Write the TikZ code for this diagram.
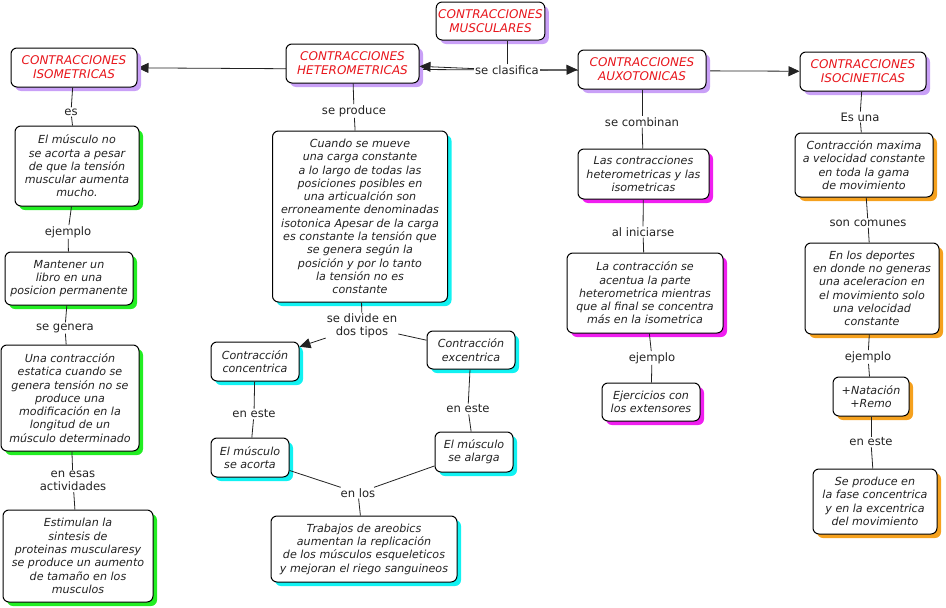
\documentclass[tikz,border=0pt]{standalone}
\usepackage{fontspec}
\setmainfont{DejaVu Sans}
\usetikzlibrary{shadows, arrows.meta, backgrounds}

\definecolor{cmred}{HTML}{E8161C}
\definecolor{txt}{HTML}{222222}
\definecolor{shpur}{HTML}{C9A0F7}
\definecolor{shgre}{HTML}{22EE22}
\definecolor{shcya}{HTML}{11F2F2}
\definecolor{shmag}{HTML}{F01EF0}
\definecolor{shora}{HTML}{F5A11E}

\begin{document}
\begin{tikzpicture}[x=1pt, y=-1pt,
  box/.style={draw, line width=1pt, rounded corners=6pt, fill=white, align=center,
    inner sep=2pt, text=txt, font=\fontsize{11.1}{13.3}\selectfont\itshape},
  head/.style={box, text=cmred, font=\fontsize{12}{14}\selectfont\itshape},
  sh/.style={drop shadow={shadow xshift=4pt, shadow yshift=-4pt, fill=#1, opacity=1}},
  phrase/.style={inner sep=1pt, align=center, text=txt, font=\fontsize{11.6}{13.3}\selectfont},
  link/.style={draw=txt, line width=0.8pt},
  tip/.style={link, -{Triangle[length=11pt, width=10pt]}},
]
\useasboundingbox (0,0) rectangle (946,608);

%% titles
\node[head, sh=shpur, minimum width=99pt, minimum height=38pt] (mus) at (490.5,21) {CONTRACCIONES\\MUSCULARES};
\node[head, sh=shpur, minimum width=133pt, minimum height=39pt] (het) at (352.5,63.5) {CONTRACCIONES\\HETEROMETRICAS};
\node[head, sh=shpur, minimum width=126pt, minimum height=39pt] (iso) at (74,67.5) {CONTRACCIONES\\ISOMETRICAS};
\node[head, sh=shpur, minimum width=128pt, minimum height=39pt] (aux) at (642,69.5) {CONTRACCIONES\\AUXOTONICAS};
\node[head, sh=shpur, minimum width=126pt, minimum height=39pt] (isc) at (863,71.5) {CONTRACCIONES\\ISOCINETICAS};

%% isometricas
\node[box, sh=shgre, minimum width=124pt, minimum height=80pt] (a1) at (77,166)
  {El músculo no\\se acorta a pesar\\de que la tensión\\muscular aumenta\\mucho.};
\node[box, sh=shgre, minimum width=128pt, minimum height=53pt] (a2) at (69,278.5)
  {Mantener un\\libro en una\\posicion permanente};
\node[box, sh=shgre, minimum width=138pt, minimum height=106pt] (a3) at (70,398)
  {Una contracción\\estatica cuando se\\genera tensión no se\\produce una\\modificación en la\\longitud de un\\músculo determinado};
\node[box, sh=shgre, minimum width=150pt, minimum height=92pt] (a4) at (78,556)
  {Estimulan la\\sintesis de\\proteinas muscularesy\\se produce un aumento\\de tamaño en los\\musculos};

%% heterometricas
\node[box, sh=shcya, minimum width=175pt, minimum height=171pt] (b1) at (360,216.5)
  {Cuando se mueve\\una carga constante\\a lo largo de todas las\\posiciones posibles en\\una articualción son\\erroneamente denominadas\\isotonica Apesar de la carga\\es constante la tensión que\\se genera según la\\posición y por lo tanto\\la tensión no es\\constante};
\node[box, sh=shcya, minimum width=88pt, minimum height=39pt] (bcon) at (255,361.5) {Contracción\\concentrica};
\node[box, sh=shcya, minimum width=88pt, minimum height=38pt] (bexc) at (471,350) {Contracción\\excentrica};
\node[box, sh=shcya, minimum width=78pt, minimum height=39pt] (bcor) at (250,457.5) {El músculo\\se acorta};
\node[box, sh=shcya, minimum width=78pt, minimum height=40pt] (blar) at (474,452) {El músculo\\se alarga};
\node[box, sh=shcya, minimum width=186pt, minimum height=66pt] (btra) at (364,549)
  {Trabajos de areobics\\aumentan la replicación\\de los músculos esqueleticos\\y mejoran el riego sanguineos};

%% auxotonicas
\node[box, sh=shmag, minimum width=131pt, minimum height=50pt] (c1) at (643.5,174)
  {Las contracciones\\heterometricas y las\\isometricas};
\node[box, sh=shmag, minimum width=156pt, minimum height=80pt] (c2) at (645,293)
  {La contracción se\\acentua la parte\\heterometrica mientras\\que al final se concentra\\más en la isometrica};
\node[box, sh=shmag, minimum width=98pt, minimum height=38pt] (c3) at (651,402) {Ejercicios con\\los extensores};

%% isocineticas
\node[box, sh=shora, minimum width=138pt, minimum height=64pt] (d1) at (864,165)
  {Contracción maxima\\a velocidad constante\\en toda la gama\\de movimiento};
\node[box, sh=shora, minimum width=134pt, minimum height=91pt] (d2) at (872,288.5)
  {En los deportes\\en donde no generas\\una aceleracion en\\el movimiento solo\\una velocidad\\constante};
\node[box, sh=shora, minimum width=76pt, minimum height=39pt] (d3) at (871,396.5) {+Natación\\+Remo};
\node[box, sh=shora, minimum width=124pt, minimum height=65pt] (d4) at (875,501.5)
  {Se produce en\\la fase concentrica\\y en la excentrica\\del movimiento};

%% linking phrases
\node[phrase] (clas) at (507,70) {se clasifica};
\node[phrase] (es) at (71,112) {es};
\node[phrase] (ej1) at (68,232) {ejemplo};
\node[phrase] (gen) at (65,328) {se genera};
\node[phrase] (esas) at (73,481) {en esas\\actividades};
\node[phrase] (prod) at (354,111) {se produce};
\node[phrase] (div) at (362,326) {se divide en\\dos tipos};
\node[phrase] (est1) at (254,414) {en este};
\node[phrase] (est2) at (468,409) {en este};
\node[phrase] (los) at (358,493) {en los};
\node[phrase] (comb) at (642,122) {se combinan};
\node[phrase] (ini) at (643,232) {al iniciarse};
\node[phrase] (ej2) at (652,358) {ejemplo};
\node[phrase] (una) at (860,117) {Es una};
\node[phrase] (com) at (868,223) {son comunes};
\node[phrase] (ej3) at (868,357) {ejemplo};
\node[phrase] (est3) at (871,442) {en este};

%% connectors
\begin{scope}[on background layer]
\draw[tip] (clas) -- (iso);
\draw[tip] (clas) -- (isc);
\end{scope}
\draw[link] (clas.north) -- (clas.north |- mus.south);
\draw[tip] (clas) -- (het);
\draw[tip] (clas) -- (aux);
\draw[tip] (div) -- (bcon);

\foreach \a/\b in {iso/es, es/a1, a1/ej1, ej1/a2, a2/gen, gen/a3, a3/esas, esas/a4,
    het/prod, prod/b1, b1/div, div/bexc, bcon/est1, est1/bcor, bexc/est2, est2/blar,
    bcor/los, blar/los, los/btra,
    aux/comb, comb/c1, c1/ini, ini/c2, c2/ej2, ej2/c3,
    isc/una, una/d1, d1/com, com/d2, d2/ej3, ej3/d3, d3/est3, est3/d4}
\draw[link] (\a) -- (\b);
\end{tikzpicture}
\end{document}
